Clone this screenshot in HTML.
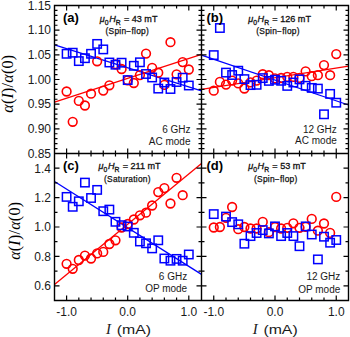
<!DOCTYPE html>
<html><head><meta charset="utf-8"><style>
html,body{margin:0;padding:0;background:#fff;width:350px;height:337px;overflow:hidden}
svg{display:block}
.tl{font-family:"Liberation Sans",sans-serif;font-size:12px;fill:#1a1a1a}
.pl{font-family:"Liberation Sans",sans-serif;font-size:13px;font-weight:bold;fill:#000}
.an1{font-family:"Liberation Sans",sans-serif;font-size:9.1px;fill:#111;stroke:#111;stroke-width:0.3px}
.an2{font-family:"Liberation Sans",sans-serif;font-size:8.4px;letter-spacing:0.25px;fill:#111;stroke:#111;stroke-width:0.25px}
.md{font-family:"Liberation Sans",sans-serif;font-size:10px;fill:#1a1a1a}
.yl{font-family:"Liberation Serif",serif;font-size:16px;letter-spacing:0.66px;fill:#000}
.xl{font-family:"Liberation Sans",sans-serif;font-size:13px;fill:#1a1a1a}
</style></head><body>
<svg width="350" height="337" viewBox="0 0 350 337">
<rect width="350" height="337" fill="#fff"/>
<clipPath id="cp00"><rect x="54.5" y="5.5" width="147.0" height="148.0"/></clipPath><clipPath id="cp10"><rect x="201.5" y="5.5" width="147.0" height="148.0"/></clipPath><clipPath id="cp01"><rect x="54.5" y="153.5" width="147.0" height="147.0"/></clipPath><clipPath id="cp11"><rect x="201.5" y="153.5" width="147.0" height="147.0"/></clipPath><g clip-path="url(#cp00)"><line x1="54.5" y1="102.2" x2="201.5" y2="54.4" stroke="#ff0000" stroke-width="1.3"/><line x1="54.5" y1="44.8" x2="201.5" y2="90.8" stroke="#0000ff" stroke-width="1.3"/><g fill="none" stroke="#ff0000" stroke-width="1.6"><circle cx="66.60" cy="91.5" r="4.35"/><circle cx="72.71" cy="121.8" r="4.35"/><circle cx="78.82" cy="100.89999999999999" r="4.35"/><circle cx="84.93" cy="105.5" r="4.35"/><circle cx="91.04" cy="93.7" r="4.35"/><circle cx="97.15" cy="61.3" r="4.35"/><circle cx="103.26" cy="90.6" r="4.35"/><circle cx="109.37" cy="85.3" r="4.35"/><circle cx="115.48" cy="64.3" r="4.35"/><circle cx="121.59" cy="69.0" r="4.35"/><circle cx="127.70" cy="80.3" r="4.35"/><circle cx="133.81" cy="83.0" r="4.35"/><circle cx="139.92" cy="75.1" r="4.35"/><circle cx="146.03" cy="53.599999999999994" r="4.35"/><circle cx="152.14" cy="67.8" r="4.35"/><circle cx="158.25" cy="72.7" r="4.35"/><circle cx="164.36" cy="84.89999999999999" r="4.35"/><circle cx="170.47" cy="42.199999999999996" r="4.35"/><circle cx="176.58" cy="74.3" r="4.35"/><circle cx="182.69" cy="62.099999999999994" r="4.35"/><circle cx="188.80" cy="69.5" r="4.35"/></g><g fill="none" stroke="#0000ff" stroke-width="1.5"><rect x="62.40" y="49.60" width="8.4" height="8.4"/><rect x="68.51" y="48.50" width="8.4" height="8.4"/><rect x="74.62" y="56.90" width="8.4" height="8.4"/><rect x="80.73" y="54.00" width="8.4" height="8.4"/><rect x="86.84" y="49.60" width="8.4" height="8.4"/><rect x="92.95" y="39.70" width="8.4" height="8.4"/><rect x="99.06" y="45.20" width="8.4" height="8.4"/><rect x="105.17" y="58.30" width="8.4" height="8.4"/><rect x="111.28" y="60.50" width="8.4" height="8.4"/><rect x="117.39" y="58.50" width="8.4" height="8.4"/><rect x="123.50" y="75.90" width="8.4" height="8.4"/><rect x="129.61" y="61.60" width="8.4" height="8.4"/><rect x="135.72" y="58.10" width="8.4" height="8.4"/><rect x="141.83" y="69.80" width="8.4" height="8.4"/><rect x="147.94" y="73.30" width="8.4" height="8.4"/><rect x="154.05" y="84.40" width="8.4" height="8.4"/><rect x="160.16" y="78.30" width="8.4" height="8.4"/><rect x="166.27" y="84.80" width="8.4" height="8.4"/><rect x="172.38" y="77.80" width="8.4" height="8.4"/><rect x="178.49" y="73.50" width="8.4" height="8.4"/><rect x="184.60" y="81.30" width="8.4" height="8.4"/></g></g><g clip-path="url(#cp10)"><line x1="201.5" y1="89.4" x2="348.5" y2="66.1" stroke="#ff0000" stroke-width="1.3"/><line x1="201.5" y1="55.2" x2="348.5" y2="105.0" stroke="#0000ff" stroke-width="1.3"/><g fill="none" stroke="#ff0000" stroke-width="1.6"><circle cx="213.75" cy="90.7" r="4.35"/><circle cx="219.88" cy="81.9" r="4.35"/><circle cx="226.00" cy="84.60000000000001" r="4.35"/><circle cx="232.12" cy="80.60000000000001" r="4.35"/><circle cx="238.25" cy="83.4" r="4.35"/><circle cx="244.38" cy="88.5" r="4.35"/><circle cx="250.50" cy="82.4" r="4.35"/><circle cx="256.62" cy="80.60000000000001" r="4.35"/><circle cx="262.75" cy="74.2" r="4.35"/><circle cx="268.88" cy="75.2" r="4.35"/><circle cx="275.00" cy="78.4" r="4.35"/><circle cx="281.12" cy="78.0" r="4.35"/><circle cx="287.25" cy="76.9" r="4.35"/><circle cx="293.38" cy="76.9" r="4.35"/><circle cx="299.50" cy="78.0" r="4.35"/><circle cx="305.62" cy="71.4" r="4.35"/><circle cx="311.75" cy="76.2" r="4.35"/><circle cx="317.88" cy="75.2" r="4.35"/><circle cx="324.00" cy="65.10000000000001" r="4.35"/><circle cx="330.12" cy="75.2" r="4.35"/><circle cx="336.25" cy="54.1" r="4.35"/></g><g fill="none" stroke="#0000ff" stroke-width="1.5"><rect x="209.55" y="50.90" width="8.4" height="8.4"/><rect x="215.68" y="23.80" width="8.4" height="8.4"/><rect x="221.80" y="68.40" width="8.4" height="8.4"/><rect x="227.93" y="70.80" width="8.4" height="8.4"/><rect x="234.05" y="66.50" width="8.4" height="8.4"/><rect x="240.18" y="74.90" width="8.4" height="8.4"/><rect x="246.30" y="80.90" width="8.4" height="8.4"/><rect x="252.43" y="80.60" width="8.4" height="8.4"/><rect x="258.55" y="73.90" width="8.4" height="8.4"/><rect x="264.68" y="76.70" width="8.4" height="8.4"/><rect x="270.80" y="75.50" width="8.4" height="8.4"/><rect x="276.93" y="76.60" width="8.4" height="8.4"/><rect x="283.05" y="81.70" width="8.4" height="8.4"/><rect x="289.18" y="78.30" width="8.4" height="8.4"/><rect x="295.30" y="75.20" width="8.4" height="8.4"/><rect x="301.43" y="81.60" width="8.4" height="8.4"/><rect x="307.55" y="83.70" width="8.4" height="8.4"/><rect x="313.68" y="84.40" width="8.4" height="8.4"/><rect x="319.80" y="110.10" width="8.4" height="8.4"/><rect x="325.93" y="89.70" width="8.4" height="8.4"/><rect x="332.05" y="98.50" width="8.4" height="8.4"/></g></g><g clip-path="url(#cp01)"><line x1="54.5" y1="284.4" x2="201.5" y2="163.4" stroke="#ff0000" stroke-width="1.3"/><line x1="54.5" y1="181.5" x2="201.5" y2="274.4" stroke="#0000ff" stroke-width="1.3"/><g fill="none" stroke="#ff0000" stroke-width="1.6"><circle cx="66.60" cy="263.8" r="4.35"/><circle cx="72.71" cy="268.8" r="4.35"/><circle cx="78.82" cy="260.0" r="4.35"/><circle cx="84.93" cy="255.6" r="4.35"/><circle cx="91.04" cy="258.5" r="4.35"/><circle cx="97.15" cy="253.4" r="4.35"/><circle cx="103.26" cy="251.9" r="4.35"/><circle cx="109.37" cy="244.0" r="4.35"/><circle cx="115.48" cy="240.3" r="4.35"/><circle cx="121.59" cy="227.5" r="4.35"/><circle cx="127.70" cy="224.0" r="4.35"/><circle cx="133.81" cy="219.5" r="4.35"/><circle cx="139.92" cy="215.3" r="4.35"/><circle cx="146.03" cy="212.7" r="4.35"/><circle cx="152.14" cy="205.5" r="4.35"/><circle cx="158.25" cy="192.1" r="4.35"/><circle cx="164.36" cy="188.1" r="4.35"/><circle cx="170.47" cy="203.5" r="4.35"/><circle cx="176.58" cy="177.8" r="4.35"/><circle cx="182.69" cy="195.2" r="4.35"/></g><g fill="none" stroke="#0000ff" stroke-width="1.5"><rect x="62.40" y="192.70" width="8.4" height="8.4"/><rect x="68.51" y="202.60" width="8.4" height="8.4"/><rect x="74.62" y="197.10" width="8.4" height="8.4"/><rect x="80.73" y="178.40" width="8.4" height="8.4"/><rect x="86.84" y="193.80" width="8.4" height="8.4"/><rect x="92.95" y="185.70" width="8.4" height="8.4"/><rect x="99.06" y="207.00" width="8.4" height="8.4"/><rect x="105.17" y="205.40" width="8.4" height="8.4"/><rect x="111.28" y="217.60" width="8.4" height="8.4"/><rect x="117.39" y="221.00" width="8.4" height="8.4"/><rect x="123.50" y="222.30" width="8.4" height="8.4"/><rect x="129.61" y="228.60" width="8.4" height="8.4"/><rect x="135.72" y="237.30" width="8.4" height="8.4"/><rect x="141.83" y="239.10" width="8.4" height="8.4"/><rect x="147.94" y="244.20" width="8.4" height="8.4"/><rect x="154.05" y="236.10" width="8.4" height="8.4"/><rect x="160.16" y="254.30" width="8.4" height="8.4"/><rect x="166.27" y="256.50" width="8.4" height="8.4"/><rect x="172.38" y="254.70" width="8.4" height="8.4"/><rect x="178.49" y="256.50" width="8.4" height="8.4"/><rect x="184.60" y="250.30" width="8.4" height="8.4"/></g></g><g clip-path="url(#cp11)"><g fill="none" stroke="#ff0000" stroke-width="1.6"><circle cx="213.75" cy="227.5" r="4.35"/><circle cx="219.88" cy="227.0" r="4.35"/><circle cx="226.00" cy="217.8" r="4.35"/><circle cx="232.12" cy="207.0" r="4.35"/><circle cx="238.25" cy="229.20000000000002" r="4.35"/><circle cx="244.38" cy="227.0" r="4.35"/><circle cx="250.50" cy="228.5" r="4.35"/><circle cx="256.62" cy="228.5" r="4.35"/><circle cx="262.75" cy="221.9" r="4.35"/><circle cx="268.88" cy="232.20000000000002" r="4.35"/><circle cx="275.00" cy="227.0" r="4.35"/><circle cx="281.12" cy="228.5" r="4.35"/><circle cx="287.25" cy="227.8" r="4.35"/><circle cx="293.38" cy="223.3" r="4.35"/><circle cx="299.50" cy="227.8" r="4.35"/><circle cx="305.62" cy="226.8" r="4.35"/><circle cx="311.75" cy="218.9" r="4.35"/><circle cx="317.88" cy="230.70000000000002" r="4.35"/><circle cx="324.00" cy="223.5" r="4.35"/><circle cx="330.12" cy="232.9" r="4.35"/><circle cx="336.25" cy="196.9" r="4.35"/></g><g fill="none" stroke="#0000ff" stroke-width="1.5"><rect x="209.55" y="209.90" width="8.4" height="8.4"/><rect x="221.80" y="212.40" width="8.4" height="8.4"/><rect x="227.93" y="217.90" width="8.4" height="8.4"/><rect x="234.05" y="220.10" width="8.4" height="8.4"/><rect x="240.18" y="239.50" width="8.4" height="8.4"/><rect x="246.30" y="231.90" width="8.4" height="8.4"/><rect x="252.43" y="228.80" width="8.4" height="8.4"/><rect x="258.55" y="225.90" width="8.4" height="8.4"/><rect x="264.68" y="229.20" width="8.4" height="8.4"/><rect x="270.80" y="222.20" width="8.4" height="8.4"/><rect x="276.93" y="231.90" width="8.4" height="8.4"/><rect x="283.05" y="228.80" width="8.4" height="8.4"/><rect x="289.18" y="231.90" width="8.4" height="8.4"/><rect x="295.30" y="242.00" width="8.4" height="8.4"/><rect x="301.43" y="222.20" width="8.4" height="8.4"/><rect x="307.55" y="230.30" width="8.4" height="8.4"/><rect x="313.68" y="255.20" width="8.4" height="8.4"/><rect x="319.80" y="232.50" width="8.4" height="8.4"/><rect x="325.93" y="238.50" width="8.4" height="8.4"/><rect x="332.05" y="235.80" width="8.4" height="8.4"/></g></g><path d="M66.60 153.5v-5.0M66.60 5.5v5.0M78.82 153.5v-3.0M78.82 5.5v3.0M91.04 153.5v-3.0M91.04 5.5v3.0M103.26 153.5v-3.0M103.26 5.5v3.0M115.48 153.5v-3.0M115.48 5.5v3.0M127.70 153.5v-5.0M127.70 5.5v5.0M139.92 153.5v-3.0M139.92 5.5v3.0M152.14 153.5v-3.0M152.14 5.5v3.0M164.36 153.5v-3.0M164.36 5.5v3.0M176.58 153.5v-3.0M176.58 5.5v3.0M188.80 153.5v-5.0M188.80 5.5v5.0M54.5 10.43h3.0M201.5 10.43h-3.0M54.5 15.37h3.0M201.5 15.37h-3.0M54.5 20.30h3.0M201.5 20.30h-3.0M54.5 25.23h3.0M201.5 25.23h-3.0M54.5 30.17h5.0M201.5 30.17h-5.0M54.5 35.10h3.0M201.5 35.10h-3.0M54.5 40.03h3.0M201.5 40.03h-3.0M54.5 44.97h3.0M201.5 44.97h-3.0M54.5 49.90h3.0M201.5 49.90h-3.0M54.5 54.83h5.0M201.5 54.83h-5.0M54.5 59.77h3.0M201.5 59.77h-3.0M54.5 64.70h3.0M201.5 64.70h-3.0M54.5 69.63h3.0M201.5 69.63h-3.0M54.5 74.57h3.0M201.5 74.57h-3.0M54.5 79.50h5.0M201.5 79.50h-5.0M54.5 84.43h3.0M201.5 84.43h-3.0M54.5 89.37h3.0M201.5 89.37h-3.0M54.5 94.30h3.0M201.5 94.30h-3.0M54.5 99.23h3.0M201.5 99.23h-3.0M54.5 104.17h5.0M201.5 104.17h-5.0M54.5 109.10h3.0M201.5 109.10h-3.0M54.5 114.03h3.0M201.5 114.03h-3.0M54.5 118.97h3.0M201.5 118.97h-3.0M54.5 123.90h3.0M201.5 123.90h-3.0M54.5 128.83h5.0M201.5 128.83h-5.0M54.5 133.77h3.0M201.5 133.77h-3.0M54.5 138.70h3.0M201.5 138.70h-3.0M54.5 143.63h3.0M201.5 143.63h-3.0M54.5 148.57h3.0M201.5 148.57h-3.0M66.60 300.5v-5.0M66.60 153.5v5.0M78.82 300.5v-3.0M78.82 153.5v3.0M91.04 300.5v-3.0M91.04 153.5v3.0M103.26 300.5v-3.0M103.26 153.5v3.0M115.48 300.5v-3.0M115.48 153.5v3.0M127.70 300.5v-5.0M127.70 153.5v5.0M139.92 300.5v-3.0M139.92 153.5v3.0M152.14 300.5v-3.0M152.14 153.5v3.0M164.36 300.5v-3.0M164.36 153.5v3.0M176.58 300.5v-3.0M176.58 153.5v3.0M188.80 300.5v-5.0M188.80 153.5v5.0M54.5 168.20h5.0M201.5 168.20h-5.0M54.5 182.90h3.0M201.5 182.90h-3.0M54.5 197.60h5.0M201.5 197.60h-5.0M54.5 212.30h3.0M201.5 212.30h-3.0M54.5 227.00h5.0M201.5 227.00h-5.0M54.5 241.70h3.0M201.5 241.70h-3.0M54.5 256.40h5.0M201.5 256.40h-5.0M54.5 271.10h3.0M201.5 271.10h-3.0M54.5 285.80h5.0M201.5 285.80h-5.0M213.75 153.5v-5.0M213.75 5.5v5.0M226.00 153.5v-3.0M226.00 5.5v3.0M238.25 153.5v-3.0M238.25 5.5v3.0M250.50 153.5v-3.0M250.50 5.5v3.0M262.75 153.5v-3.0M262.75 5.5v3.0M275.00 153.5v-5.0M275.00 5.5v5.0M287.25 153.5v-3.0M287.25 5.5v3.0M299.50 153.5v-3.0M299.50 5.5v3.0M311.75 153.5v-3.0M311.75 5.5v3.0M324.00 153.5v-3.0M324.00 5.5v3.0M336.25 153.5v-5.0M336.25 5.5v5.0M201.5 10.43h3.0M348.5 10.43h-3.0M201.5 15.37h3.0M348.5 15.37h-3.0M201.5 20.30h3.0M348.5 20.30h-3.0M201.5 25.23h3.0M348.5 25.23h-3.0M201.5 30.17h5.0M348.5 30.17h-5.0M201.5 35.10h3.0M348.5 35.10h-3.0M201.5 40.03h3.0M348.5 40.03h-3.0M201.5 44.97h3.0M348.5 44.97h-3.0M201.5 49.90h3.0M348.5 49.90h-3.0M201.5 54.83h5.0M348.5 54.83h-5.0M201.5 59.77h3.0M348.5 59.77h-3.0M201.5 64.70h3.0M348.5 64.70h-3.0M201.5 69.63h3.0M348.5 69.63h-3.0M201.5 74.57h3.0M348.5 74.57h-3.0M201.5 79.50h5.0M348.5 79.50h-5.0M201.5 84.43h3.0M348.5 84.43h-3.0M201.5 89.37h3.0M348.5 89.37h-3.0M201.5 94.30h3.0M348.5 94.30h-3.0M201.5 99.23h3.0M348.5 99.23h-3.0M201.5 104.17h5.0M348.5 104.17h-5.0M201.5 109.10h3.0M348.5 109.10h-3.0M201.5 114.03h3.0M348.5 114.03h-3.0M201.5 118.97h3.0M348.5 118.97h-3.0M201.5 123.90h3.0M348.5 123.90h-3.0M201.5 128.83h5.0M348.5 128.83h-5.0M201.5 133.77h3.0M348.5 133.77h-3.0M201.5 138.70h3.0M348.5 138.70h-3.0M201.5 143.63h3.0M348.5 143.63h-3.0M201.5 148.57h3.0M348.5 148.57h-3.0M213.75 300.5v-5.0M213.75 153.5v5.0M226.00 300.5v-3.0M226.00 153.5v3.0M238.25 300.5v-3.0M238.25 153.5v3.0M250.50 300.5v-3.0M250.50 153.5v3.0M262.75 300.5v-3.0M262.75 153.5v3.0M275.00 300.5v-5.0M275.00 153.5v5.0M287.25 300.5v-3.0M287.25 153.5v3.0M299.50 300.5v-3.0M299.50 153.5v3.0M311.75 300.5v-3.0M311.75 153.5v3.0M324.00 300.5v-3.0M324.00 153.5v3.0M336.25 300.5v-5.0M336.25 153.5v5.0M201.5 168.20h5.0M348.5 168.20h-5.0M201.5 182.90h3.0M348.5 182.90h-3.0M201.5 197.60h5.0M348.5 197.60h-5.0M201.5 212.30h3.0M348.5 212.30h-3.0M201.5 227.00h5.0M348.5 227.00h-5.0M201.5 241.70h3.0M348.5 241.70h-3.0M201.5 256.40h5.0M348.5 256.40h-5.0M201.5 271.10h3.0M348.5 271.10h-3.0M201.5 285.80h5.0M348.5 285.80h-5.0" stroke="#000" stroke-width="1.2" fill="none"/><path d="M54.5 5.5H348.5V300.5H54.5ZM201.5 5.5V300.5M54.5 153.5H348.5" stroke="#000" stroke-width="1.4" fill="none"/><text x="51.0" y="9.80" text-anchor="end" class="tl">1.15</text><text x="51.0" y="34.47" text-anchor="end" class="tl">1.10</text><text x="51.0" y="59.13" text-anchor="end" class="tl">1.05</text><text x="51.0" y="83.80" text-anchor="end" class="tl">1.00</text><text x="51.0" y="108.47" text-anchor="end" class="tl">0.95</text><text x="51.0" y="133.13" text-anchor="end" class="tl">0.90</text><text x="51.0" y="157.80" text-anchor="end" class="tl">0.85</text><text x="51.0" y="172.50" text-anchor="end" class="tl">1.4</text><text x="51.0" y="201.90" text-anchor="end" class="tl">1.2</text><text x="51.0" y="231.30" text-anchor="end" class="tl">1.0</text><text x="51.0" y="260.70" text-anchor="end" class="tl">0.8</text><text x="51.0" y="290.10" text-anchor="end" class="tl">0.6</text><text x="66.60" y="315.5" text-anchor="middle" class="tl">-1.0</text><text x="127.70" y="315.5" text-anchor="middle" class="tl">0.0</text><text x="188.80" y="315.5" text-anchor="middle" class="tl">1.0</text><text x="213.75" y="315.5" text-anchor="middle" class="tl">-1.0</text><text x="275.00" y="315.5" text-anchor="middle" class="tl">0.0</text><text x="336.25" y="315.5" text-anchor="middle" class="tl">1.0</text>
<text x="63" y="22.2" class="pl">(a)</text>
<text x="206.5" y="22.2" class="pl">(b)</text>
<text x="63" y="170.2" class="pl">(c)</text>
<text x="206.5" y="170.2" class="pl">(d)</text>

<text x="99.8" y="22.3" class="an1"><tspan font-style="italic">μ</tspan><tspan font-size="6.8px" dy="3">0</tspan><tspan font-style="italic" dy="-3" dx="0.6">H</tspan><tspan font-size="6.8px" dy="3">R</tspan><tspan dy="-3" dx="0.7"> = 43 mT</tspan></text><text x="105.5" y="34.2" class="an2">(Spin−flop)</text><text x="248.2" y="22.3" class="an1"><tspan font-style="italic">μ</tspan><tspan font-size="6.8px" dy="3">0</tspan><tspan font-style="italic" dy="-3" dx="0.6">H</tspan><tspan font-size="6.8px" dy="3">R</tspan><tspan dy="-3" dx="0.7"> = 126 mT</tspan></text><text x="256.3" y="34.2" class="an2">(Spin−flop)</text><text x="98.6" y="169.2" class="an1"><tspan font-style="italic">μ</tspan><tspan font-size="6.8px" dy="3">0</tspan><tspan font-style="italic" dy="-3" dx="0.6">H</tspan><tspan font-size="6.8px" dy="3">R</tspan><tspan dy="-3" dx="0.7"> = 211 mT</tspan></text><text x="104" y="181.5" class="an2">(Saturation)</text><text x="248.2" y="169.2" class="an1"><tspan font-style="italic">μ</tspan><tspan font-size="6.8px" dy="3">0</tspan><tspan font-style="italic" dy="-3" dx="0.6">H</tspan><tspan font-size="6.8px" dy="3">R</tspan><tspan dy="-3" dx="0.7"> = 53 mT</tspan></text><text x="254" y="181.5" class="an2">(Spin−flop)</text>
<text x="190.5" y="132.8" text-anchor="end" class="md">6 GHz</text><text x="190.5" y="144.5" text-anchor="end" class="md">AC mode</text><text x="336.8" y="132.5" text-anchor="end" class="md">12 GHz</text><text x="336.8" y="143.5" text-anchor="end" class="md">AC mode</text><text x="187.2" y="279.6" text-anchor="end" class="md">6 GHz</text><text x="187.2" y="292" text-anchor="end" class="md">OP mode</text><text x="340.3" y="279.6" text-anchor="end" class="md">12 GHz</text><text x="340.3" y="293" text-anchor="end" class="md">OP mode</text>
<text transform="translate(12.5,83.5) rotate(-90)" text-anchor="middle" class="yl" textLength="58.5" lengthAdjust="spacing"><tspan font-style="italic">α</tspan>(<tspan font-style="italic">I</tspan>)/<tspan font-style="italic">α</tspan>(0)</text><text transform="translate(20.0,230.6) rotate(-90)" text-anchor="middle" class="yl" textLength="58.5" lengthAdjust="spacing"><tspan font-style="italic">α</tspan>(<tspan font-style="italic">I</tspan>)/<tspan font-style="italic">α</tspan>(0)</text>
<text x="106.1" y="334" font-family="Liberation Serif" font-style="italic" font-size="14.8px" fill="#1a1a1a">I</text><text x="116.8" y="333.6" class="xl" textLength="34.3" lengthAdjust="spacingAndGlyphs">(mA)</text><text x="252.7" y="334" font-family="Liberation Serif" font-style="italic" font-size="14.8px" fill="#1a1a1a">I</text><text x="263.4" y="333.6" class="xl" textLength="34.3" lengthAdjust="spacingAndGlyphs">(mA)</text>
</svg>
</body></html>
